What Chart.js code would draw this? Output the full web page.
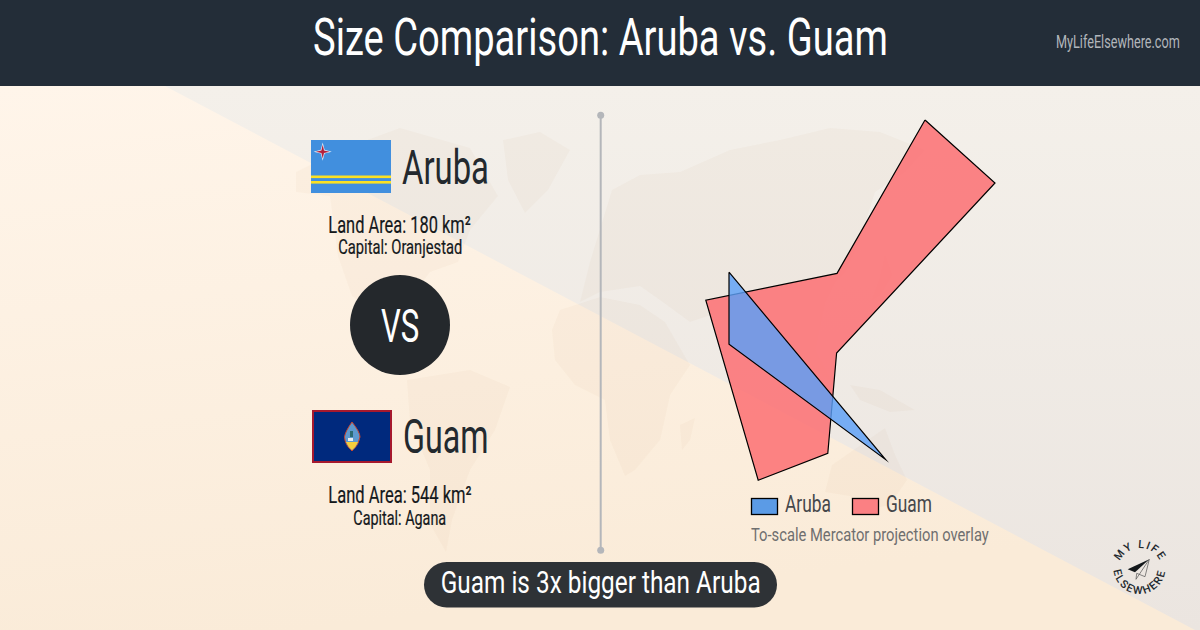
<!DOCTYPE html>
<html>
<head>
<meta charset="utf-8">
<title>Size Comparison: Aruba vs. Guam</title>
<script src="https://cdn.jsdelivr.net/npm/chart.js@4/dist/chart.umd.min.js"></script>
<style>
html,body{margin:0;padding:0;width:1200px;height:630px;overflow:hidden;background:#faebd8}
#page{position:absolute;left:0;top:0}
#myCanvas{position:absolute;left:683px;top:110px}
text{font-family:Roboto,"Liberation Sans",sans-serif}
.dark{fill:#23292e}
.info{fill:#14181b;stroke:#14181b;stroke-width:.2}
.light{fill:#fff}
.logo{fill:#23292e;font-weight:500;font-size:11px}
</style>
</head>
<body>
<svg id="page" width="1200" height="630" viewBox="0 0 1200 630">
	<defs>
		<linearGradient id="warm" x1="0" y1="0" x2="0.25" y2="1">
			<stop offset="0" stop-color="#fff5ea"/>
			<stop offset="1" stop-color="#faebd8"/>
		</linearGradient>
		<linearGradient id="cool" x1="0" y1="0" x2="0" y2="1">
			<stop offset="0" stop-color="#f4f0ea"/>
			<stop offset="1" stop-color="#ebe5e0"/>
		</linearGradient>
		<path id="arcTop" d="M1118,570 A22,22 0 0 1 1162,570"/>
		<path id="arcBottom" d="M1113.5,568 A26,26 0 0 0 1165.5,568"/>
	</defs>

	<!-- background -->
	<rect x="0" y="86" width="1200" height="544" fill="url(#warm)"/>
	<polygon points="165,86 1200,86 1200,630 1195,630" fill="url(#cool)"/>

	<!-- faint world map, only a rough sketch -->
	<g fill="#a8753a" fill-opacity="0.035">
		<path d="M296,172 L340,150 L400,128 L470,148 L498,196 L470,230 L458,262 L430,272 L408,302 L392,292 L372,310 L352,296 L338,256 L330,196 L296,192 Z"/>
		<path d="M503,140 L540,132 L570,150 L548,190 L525,213 L508,180 Z"/>
		<path d="M372,310 L392,330 L410,352 L400,372 L380,340 Z"/>
		<path d="M407,380 L470,370 L510,387 L495,430 L470,470 L452,520 L446,552 L430,524 L430,470 L410,422 Z"/>
		<path d="M560,310 L600,297 L640,305 L665,322 L690,365 L670,395 L660,440 L635,470 L625,476 L610,440 L605,400 L575,385 L555,360 L552,330 Z"/>
		<path d="M680,425 L695,418 L690,440 L682,450 Z"/>
		<path d="M590,262 L612,190 L640,175 L680,172 L730,150 L780,140 L830,128 L880,132 L925,150 L905,172 L875,192 L860,240 L845,272 L835,282 L825,302 L815,350 L832,382 L800,360 L770,342 L745,356 L720,312 L690,322 L660,300 L640,286 L600,292 L580,302 Z"/>
		<path d="M825,492 L832,465 L885,428 L895,455 L907,480 L890,505 L860,511 L850,496 Z"/>
		<path d="M850,385 L880,390 L915,410 L890,412 L860,400 Z"/>
		<path d="M885,255 L892,275 L880,295 L872,300 L880,278 Z"/>
	</g>

	<!-- header -->
	<rect x="0" y="0" width="1200" height="86" fill="#232d38"/>
	<text class="light" x="313" y="55" font-size="51" data-w="575">Size Comparison: Aruba vs. Guam</text>
	<text x="1056" y="48" font-size="18" fill="#b2b6bb" data-w="124">MyLifeElsewhere.com</text>

	<!-- Aruba flag -->
	<rect x="311" y="140" width="80" height="53" fill="#418fde"/>
	<rect x="311" y="175.5" width="80" height="2.6" fill="#fbe122"/>
	<rect x="311" y="181" width="80" height="2.6" fill="#fbe122"/>
	<polygon points="322.7,142.6 324.6,149.8 331.8,151.7 324.6,153.6 322.7,160.8 320.8,153.6 313.6,151.7 320.8,149.8" fill="#fff" fill-opacity="0.85"/>
	<polygon points="322.7,144.8 324,150.4 329.6,151.7 324,153 322.7,158.6 321.4,153 315.8,151.7 321.4,150.4" fill="#b3203c"/>
	<text class="dark" x="402" y="183.5" font-size="48" data-w="87">Aruba</text>
	<text class="info" x="328.3" y="232.7" font-size="23.5" data-w="142.5">Land Area: 180 km²</text>
	<text class="info" x="338.3" y="254.3" font-size="20" data-w="124">Capital: Oranjestad</text>

	<!-- VS -->
	<circle cx="400" cy="325" r="50" fill="#24282c"/>
	<text class="light" x="381" y="341.5" font-size="46" data-w="38.3">VS</text>

	<!-- Guam flag -->
	<rect x="313" y="411" width="78" height="51" fill="#00297d" stroke="#a6192e" stroke-width="2"/>
	<path d="M352,422 Q360,432 360,437 Q359,445 352,451 Q345,445 344.5,437 Q345,432 352,422 Z" fill="#5d9ad0" stroke="#c8452e" stroke-width="1"/>
	<path d="M346,442 L358,442 Q356,447 352,450 Q348,447 346,442 Z" fill="#f6cf3c"/>
	<rect x="350" y="431" width="3" height="6" fill="#2c6b74"/>
	<rect x="348" y="438" width="5" height="3" fill="#e8eef2"/>
	<text class="dark" x="403" y="453" font-size="48" data-w="85.5">Guam</text>
	<text class="info" x="328.3" y="502.7" font-size="23.5" data-w="143.5">Land Area: 544 km²</text>
	<text class="info" x="353.3" y="525" font-size="20" data-w="93">Capital: Agana</text>

	<!-- divider -->
	<line x1="600.7" y1="115.3" x2="600.7" y2="550.3" stroke="#b4b6ba" stroke-width="2"/>
	<circle cx="600.7" cy="115.3" r="3.5" fill="#b4b6ba"/>
	<circle cx="600.7" cy="550.3" r="3.5" fill="#b4b6ba"/>

	<!-- overlay legend and caption -->
	<rect x="751.5" y="498.5" width="26" height="16" fill="#5b9be6" stroke="#000" stroke-width="1.3"/>
	<text x="785" y="511.7" font-size="23" fill="#45474a" data-w="46">Aruba</text>
	<rect x="852.5" y="498.5" width="26" height="16" fill="#fb8083" stroke="#000" stroke-width="1.3"/>
	<text x="886" y="511.7" font-size="23" fill="#45474a" data-w="46">Guam</text>
	<text x="751" y="541" font-size="18.5" fill="#6f6f6f" data-w="238">To-scale Mercator projection overlay</text>

	<!-- bottom pill -->
	<rect x="424" y="562" width="353" height="45.5" rx="22.7" fill="#2e3236"/>
	<text class="light" x="440.7" y="593.3" font-size="32" data-w="320">Guam is 3x bigger than Aruba</text>

	<!-- logo -->
	<text class="logo" letter-spacing="1.5" text-anchor="middle"><textPath href="#arcTop" startOffset="50%">MY LIFE</textPath></text>
	<text class="logo" letter-spacing="1.6" text-anchor="middle"><textPath href="#arcBottom" startOffset="50%">ELSEWHERE</textPath></text>
	<polygon points="1149.3,559.3 1127.7,569.3 1135,572.3" fill="#14181b"/>
	<polyline points="1149.3,559.3 1145,576.7 1136.7,573.3 1136,579.3 1149.3,559.3" fill="none" stroke="#555" stroke-width="0.7"/>
</svg>

<canvas id="myCanvas" width="317" height="379"></canvas>

<script>
var names=["Aruba","Guam"];
// outlines in km, first point repeated to close the shape
var arubaX=[5.75,25.3,5.75,5.75];
var arubaY=[27.1,3.7,18.1,27.1];
var guamX=[30.25,39,19.2,18.1,9.4,2.85,19.25,30.25];
var guamY=[46.125,38.25,17,4.45,1.1,23.6,26.95,46.125];

function outline(xs,ys){
	var pts=[];
	for(var i in xs){
		pts.push({x:xs[i],y:ys[i]});
	}
	return pts;
}

// no narrow font is installed, so squeeze each text to the width it has in the picture
document.querySelectorAll("text[data-w]").forEach(function(t){
	var x=t.getAttribute("x"), y=t.getAttribute("y");
	var sx=t.getAttribute("data-w")/t.getComputedTextLength();
	t.removeAttribute("x");
	t.removeAttribute("y");
	t.setAttribute("transform","translate("+x+" "+y+") scale("+sx+" 1)");
});

var ctx=document.getElementById("myCanvas");
var overlay=new Chart(ctx,{
	type:'scatter',
	data:{
		datasets:[
		{
			label:names[0],
			data:outline(arubaX,arubaY),
			showLine:true,
			fill:'shape',
			backgroundColor:'rgba(92,160,248,0.82)',
			borderColor:'#000',
			borderWidth:1.2,
			pointRadius:0,
			clip:false
		},
		{
			label:names[1],
			data:outline(guamX,guamY),
			showLine:true,
			fill:'shape',
			backgroundColor:'rgba(252,112,115,0.86)',
			borderColor:'#000',
			borderWidth:1.2,
			pointRadius:0,
			clip:false
		}
		]
	},
	options:{
		responsive:false,
		animation:false,
		layout:{padding:0},
		scales:{
			x:{display:false,min:0,max:39.625},
			y:{display:false,min:0,max:47.375}
		},
		plugins:{
			tooltip:{enabled:false},
			legend:{display:false}
		}
	}
});
</script>
</body>
</html>
